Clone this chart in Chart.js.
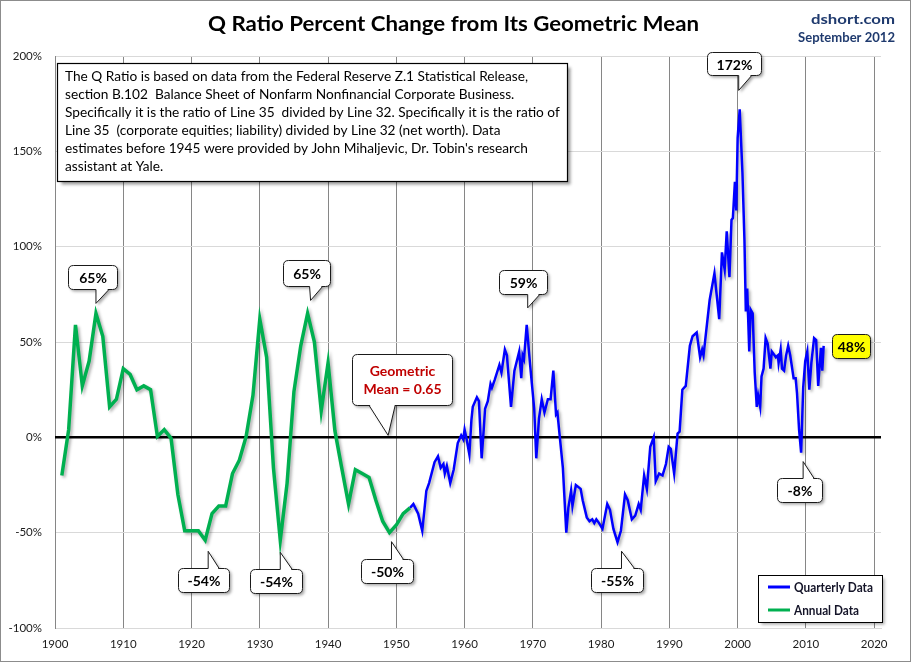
<!DOCTYPE html>
<html>
<head>
<meta charset="utf-8">
<script src="https://cdn.jsdelivr.net/npm/chart.js@4.4.0/dist/chart.umd.min.js"></script>
<style>
  html, body { margin: 0; padding: 0; background: #fff; }
  #wrap { width: 911px; height: 662px; }
</style>
</head>
<body>
<div id="wrap"><canvas id="q-chart" width="911" height="662"></canvas></div>
<script>
// Q ratio, % change from geometric mean

// ---- Data ----
const annualYears = [1901, 1902, 1903, 1904, 1905, 1906, 1907, 1908, 1909, 1910,
  1911, 1912, 1913, 1914, 1915, 1916, 1917, 1918, 1919, 1920,
  1921, 1922, 1923, 1924, 1925, 1926, 1927, 1928, 1929, 1930,
  1931, 1932, 1933, 1934, 1935, 1936, 1937, 1938, 1939, 1940,
  1941, 1942, 1943, 1944, 1945, 1946, 1947, 1948, 1949, 1950,
  1951, 1952];
const annualValues = [-20, 4, 59, 27, 40, 65, 53, 16, 20, 36,
  33, 25, 27, 25, 0.5, 4, -0.5, -30, -49, -49,
  -49, -54, -40, -36, -36, -19, -12, 0.5, 22, 62,
  42, -16, -54, -24, 24, 48, 65, 50, 14, 39,
  3.5, -16, -35, -17, -19, -21, -33, -44, -50, -46,
  -40, -37];

const quarterYears = [1952.0, 1952.5, 1953.2, 1953.8, 1954.4, 1954.8, 1955.6, 1956.1, 1956.5, 1956.9,
  1957.1, 1957.4, 1957.9, 1958.4, 1959.0, 1959.5, 1959.8, 1960.0, 1960.3, 1960.7,
  1961.0, 1961.2, 1961.8, 1962.1, 1962.5, 1962.8, 1963.0, 1963.4, 1963.8, 1964.0,
  1964.4, 1965.1, 1965.4, 1965.9, 1966.2, 1966.8, 1967.3, 1968.0, 1968.3, 1968.5,
  1968.7, 1969.1, 1969.6, 1970.2, 1970.5, 1970.9, 1971.3, 1971.7, 1972.2, 1972.6,
  1973.0, 1973.4, 1973.6, 1973.9, 1974.4, 1974.9, 1975.2, 1975.6, 1975.8, 1976.3,
  1977.0, 1977.3, 1977.9, 1978.3, 1978.7, 1979.0, 1979.3, 1979.7, 1980.2, 1980.9,
  1981.3, 1981.8, 1982.4, 1982.9, 1983.5, 1983.9, 1984.5, 1985.0, 1985.5, 1985.8,
  1986.3, 1986.7, 1987.2, 1987.7, 1988.0, 1988.5, 1989.0, 1989.5, 1989.9, 1990.2,
  1990.7, 1991.2, 1991.5, 1991.9, 1992.4, 1993.0, 1993.4, 1994.0, 1994.5, 1994.8,
  1995.0, 1995.9, 1996.6, 1997.3, 1997.7, 1998.1, 1998.4, 1998.8, 1999.1, 1999.3,
  1999.6, 1999.8, 2000.0, 2000.3, 2000.7, 2001.0, 2001.2, 2001.4, 2001.7, 2001.9,
  2002.2, 2002.5, 2002.8, 2003.0, 2003.3, 2003.5, 2003.8, 2004.1, 2004.4, 2004.8,
  2005.0, 2005.4, 2005.6, 2005.9, 2006.0, 2006.3, 2006.5, 2006.8, 2007.1, 2007.4,
  2007.7, 2008.2, 2008.5, 2008.7, 2009.0, 2009.3, 2009.6, 2009.9, 2010.2, 2010.5,
  2010.8, 2011.2, 2011.5, 2011.8, 2012.2, 2012.4, 2012.6];
const quarterValues = [-37, -35, -40, -49, -28, -24, -13, -10, -16, -14,
  -19, -15, -24, -17, -3, 1, -1, 4, -1, -9,
  9, 16, 21, 19, -11, 4, 15, 19, 28, 26,
  30, 38, 34, 46, 43, 16, 35, 45, 31, 43,
  41, 59, 38, 15, -11, 10, 20, 13, 20, 20,
  35, 12, 13, 2, -16, -50, -37, -28, -36, -25,
  -27, -33, -42, -44, -43, -45, -43, -45, -48, -35,
  -38, -48, -55, -49, -30, -33, -43, -41, -35, -38,
  -20, -27, -5, 0, -23, -19, -20, -14, -5, -6,
  -19, 2, 3, 25, 27, 48, 53, 55, 42, 46,
  43, 72, 86, 62, 97, 88, 108, 84, 114, 115,
  134, 119, 157, 172, 139, 103, 66, 78, 45, 67,
  65, 34, 16, 22, 16, 32, 36, 52, 49, 36,
  45, 43, 42, 43, 39, 46, 36, 35, 43, 48,
  43, 31, 31, 23, 4, -8, 26, 40, 45, 25,
  39, 52, 51, 27, 47, 35, 48];

const yTicks = [-100, -50, 0, 50, 100, 150, 200];
const xTicks = [1900, 1910, 1920, 1930, 1940, 1950, 1960, 1970, 1980, 1990, 2000, 2010, 2020];

const noteLines = [
  'The Q Ratio is based on data from the Federal Reserve Z.1 Statistical Release,',
  'section B.102  Balance Sheet of Nonfarm Nonfinancial Corporate Business.',
  'Specifically it is the ratio of Line 35  divided by Line 32. Specifically it is the ratio of',
  'Line 35  (corporate equities; liability) divided by Line 32 (net worth). Data',
  'estimates before 1945 were provided by John Mihaljevic, Dr. Tobin\'s research',
  'assistant at Yale.'
];

// callouts: anchor in data units, box/tip/base offsets in px from the anchor
const callouts = [
  { text: '65%', x: 1906, y: 65, box: [-28, -48, 49, 24], tip: [0, -10], base: [0, 13] },
  { text: '65%', x: 1937, y: 65, box: [-25, -53, 47, 26], tip: [3, -13], base: [2, 15] },
  { text: '-54%', x: 1922, y: -54, box: [-27, 28, 51, 24], tip: [3, 11], base: [3, 14] },
  { text: '-54%', x: 1933, y: -54, box: [-30, 29, 52, 24], tip: [0, 12], base: [0, 12] },
  { text: '-50%', x: 1949, y: -50, box: [-28, 26, 52, 24], tip: [2, 9], base: [2, 14] },
  { text: ['Geometric', 'Mean = 0.65'], x: 1948.8, y: 0, box: [-36, -83, 100, 51], tip: [0, -2], base: [-19, 7], color: '#C00000' },
  { text: '59%', x: 1969.1, y: 59, box: [-28, -55, 48, 24], tip: [1, -17], base: [1, 13] },
  { text: '172%', x: 2000.3, y: 172, box: [-33, -57, 54, 23], tip: [-1, -19], base: [-1, 12] },
  { text: '-55%', x: 1982.4, y: -55, box: [-26, 26, 52, 24], tip: [4, 9], base: [4, 17] },
  { text: '-8%', x: 2009.3, y: -8, box: [-24, 25, 45, 24], tip: [2, 9], base: [2, 13] },
  { text: '48%', x: 2012.6, y: 48, box: [8, -12, 38, 24], fill: '#FFFF00' }
];

const FONT = 'Lato, "Open Sans", sans-serif';

// ---- Drawing helpers ----
function roundRectPath(ctx, x, y, w, h, r) {
  ctx.moveTo(x + r, y);
  ctx.lineTo(x + w - r, y);
  ctx.quadraticCurveTo(x + w, y, x + w, y + r);
  ctx.lineTo(x + w, y + h - r);
  ctx.quadraticCurveTo(x + w, y + h, x + w - r, y + h);
  ctx.lineTo(x + r, y + h);
  ctx.quadraticCurveTo(x, y + h, x, y + h - r);
  ctx.lineTo(x, y + r);
  ctx.quadraticCurveTo(x, y, x + r, y);
  ctx.closePath();
}

// draw text squeezed/stretched to a given width
function fitText(ctx, text, x, y, width) {
  const w = ctx.measureText(text).width;
  ctx.save();
  ctx.translate(x, y);
  ctx.scale(width / w, 1);
  ctx.fillText(text, 0, 0);
  ctx.restore();
}

function drawCallout(ctx, c, ax, ay) {
  const bx = Math.round(ax + c.box[0]) + 0.5, by = Math.round(ay + c.box[1]) + 0.5;
  const bw = c.box[2], bh = c.box[3];
  const fill = c.fill || '#fff';
  let tx, ty, edge, x1, x2;
  if (c.tip) {
    tx = ax + c.tip[0]; ty = ay + c.tip[1];
    edge = ty < by ? by : by + bh;
    x1 = ax + c.base[0]; x2 = ax + c.base[1];
  }
  ctx.save();
  ctx.shadowColor = 'rgba(0,0,0,0.35)';
  ctx.shadowBlur = 3;
  ctx.shadowOffsetX = 2;
  ctx.shadowOffsetY = 2;
  ctx.fillStyle = fill;
  ctx.beginPath();
  roundRectPath(ctx, bx, by, bw, bh, 5);
  if (c.tip) {
    ctx.moveTo(x1, edge); ctx.lineTo(tx, ty); ctx.lineTo(x2, edge); ctx.closePath();
  }
  ctx.fill();
  ctx.restore();

  ctx.save();
  ctx.lineWidth = 1;
  ctx.strokeStyle = '#1a1a1a';
  ctx.beginPath();
  roundRectPath(ctx, bx, by, bw, bh, 5);
  ctx.stroke();
  if (c.tip) {
    const inset = ty < by ? 1.5 : -1.5;
    ctx.fillStyle = fill;
    ctx.beginPath();
    ctx.moveTo(x1, edge + inset); ctx.lineTo(tx, ty); ctx.lineTo(x2, edge + inset); ctx.closePath();
    ctx.fill();
    ctx.beginPath();
    ctx.moveTo(x1, edge); ctx.lineTo(tx, ty); ctx.lineTo(x2, edge);
    ctx.stroke();
  }
  ctx.fillStyle = c.color || '#000';
  ctx.textAlign = 'center';
  ctx.textBaseline = 'middle';
  const cx = bx + bw / 2;
  if (Array.isArray(c.text)) {
    ctx.font = 'bold 14px ' + FONT;
    ctx.fillText(c.text[0], cx, by + 17);
    ctx.fillText(c.text[1], cx, by + 35);
  } else {
    ctx.font = 'bold 14px ' + FONT;
    ctx.fillText(c.text, cx, by + bh / 2 + 1);
  }
  ctx.restore();
}

// ---- Plugins ----
const lineShadow = {
  id: 'lineShadow',
  beforeDatasetDraw(chart) {
    const ctx = chart.ctx;
    ctx.save();
    ctx.shadowColor = 'rgba(0,0,0,0.3)';
    ctx.shadowBlur = 3;
    ctx.shadowOffsetX = 2;
    ctx.shadowOffsetY = 2;
  },
  afterDatasetDraw(chart) {
    chart.ctx.restore();
  }
};

const zeroLine = {
  id: 'zeroLine',
  beforeDatasetsDraw(chart) {
    const { ctx, chartArea, scales } = chart;
    const y = scales.y.getPixelForValue(0);
    ctx.save();
    ctx.strokeStyle = '#000';
    ctx.lineWidth = 2.5;
    ctx.beginPath();
    ctx.moveTo(chartArea.left, y);
    ctx.lineTo(chartArea.right, y);
    ctx.stroke();
    ctx.restore();
  }
};

const decorations = {
  id: 'decorations',
  afterDraw(chart) {
    const { ctx, scales } = chart;
    ctx.save();

    // outer frame
    ctx.strokeStyle = '#8c8c8c';
    ctx.lineWidth = 1;
    ctx.strokeRect(0.5, 0.5, 910, 661);

    // title + source
    ctx.fillStyle = '#000';
    ctx.textAlign = 'center';
    ctx.textBaseline = 'alphabetic';
    ctx.font = 'bold 21px ' + FONT;
    fitText(ctx, 'Q Ratio Percent Change from Its Geometric Mean', 453.5, 31, 491);
    ctx.fillStyle = '#1F3A6E';
    ctx.textAlign = 'right';
    ctx.font = 'bold 13px ' + FONT;
    fitText(ctx, 'dshort.com', 895, 24, 84);
    fitText(ctx, 'September 2012', 895, 42, 97);

    // note box
    ctx.save();
    ctx.shadowColor = 'rgba(0,0,0,0.4)';
    ctx.shadowBlur = 3;
    ctx.shadowOffsetX = 3;
    ctx.shadowOffsetY = 3;
    ctx.fillStyle = '#fff';
    ctx.fillRect(57.5, 63.5, 510, 118);
    ctx.restore();
    ctx.strokeStyle = '#000';
    ctx.lineWidth = 1.2;
    ctx.strokeRect(57.5, 63.5, 510, 118);
    ctx.fillStyle = '#000';
    ctx.textAlign = 'left';
    ctx.textBaseline = 'middle';
    ctx.font = '13px ' + FONT;
    const sx = 463 / ctx.measureText(noteLines[0]).width;
    noteLines.forEach((t, i) => {
      ctx.save();
      ctx.translate(65, 77 + i * 18);
      ctx.scale(sx, 1);
      ctx.fillText(t, 0, 0);
      ctx.restore();
    });

    // callouts
    callouts.forEach(c => {
      drawCallout(ctx, c, scales.x.getPixelForValue(c.x), scales.y.getPixelForValue(c.y));
    });

    // legend
    ctx.save();
    ctx.shadowColor = 'rgba(0,0,0,0.35)';
    ctx.shadowBlur = 3;
    ctx.shadowOffsetX = 2;
    ctx.shadowOffsetY = 2;
    ctx.fillStyle = '#fff';
    ctx.fillRect(758.5, 575.5, 124, 47);
    ctx.restore();
    ctx.strokeStyle = '#000';
    ctx.lineWidth = 1;
    ctx.strokeRect(758.5, 575.5, 124, 47);
    const items = chart.data.datasets;
    items.forEach((ds, i) => {
      const y = 587 + i * 23;
      ctx.strokeStyle = ds.borderColor;
      ctx.lineWidth = 3;
      ctx.beginPath();
      ctx.moveTo(768, y);
      ctx.lineTo(790, y);
      ctx.stroke();
      ctx.fillStyle = '#141428';
      ctx.font = 'bold 12.5px ' + FONT;
      ctx.textAlign = 'left';
      ctx.textBaseline = 'middle';
      fitText(ctx, ds.label, 794, y + 1, i === 0 ? 79 : 65);
    });

    ctx.restore();
  }
};

// ---- Chart ----
function buildChart() {
  const ctx = document.getElementById('q-chart').getContext('2d');
  return new Chart(ctx, {
    type: 'line',
    data: {
      datasets: [
        {
          label: 'Quarterly Data',
          data: quarterYears.map((x, i) => ({ x, y: quarterValues[i] })),
          borderColor: '#0000FF',
          borderWidth: 2.5,
          pointRadius: 0,
          tension: 0,
          order: 2
        },
        {
          label: 'Annual Data',
          data: annualYears.map((x, i) => ({ x, y: annualValues[i] })),
          borderColor: '#00B050',
          borderWidth: 3.5,
          pointRadius: 0,
          tension: 0,
          order: 1
        }
      ]
    },
    options: {
      responsive: false,
      animation: false,
      devicePixelRatio: 1,
      layout: { padding: { top: 56, right: 30, left: 0, bottom: 0 } },
      scales: {
        x: {
          type: 'linear',
          min: 1900,
          max: 2021,
          afterBuildTicks: (s) => { s.ticks = xTicks.map(v => ({ value: v })); },
          afterFit: (s) => { s.height = 34; },
          grid: { color: '#868686', drawTicks: false },
          border: { color: '#D9D9D9' },
          ticks: {
            padding: 9,
            color: '#1a1a1a',
            font: { family: FONT, size: 11.5 },
            maxRotation: 0,
            callback: (v) => String(v)
          }
        },
        y: {
          min: -100,
          max: 200,
          afterBuildTicks: (s) => { s.ticks = yTicks.map(v => ({ value: v })); },
          afterFit: (s) => { s.width = 55; },
          grid: { color: '#D9D9D9', drawTicks: false },
          border: { color: '#868686' },
          ticks: {
            padding: 13,
            color: '#1a1a1a',
            font: { family: FONT, size: 11.5 },
            callback: (v) => v + '%'
          }
        }
      },
      plugins: {
        legend: { display: false },
        tooltip: { enabled: false }
      }
    },
    plugins: [zeroLine, lineShadow, decorations]
  });
}

buildChart();
</script>
</body>
</html>
